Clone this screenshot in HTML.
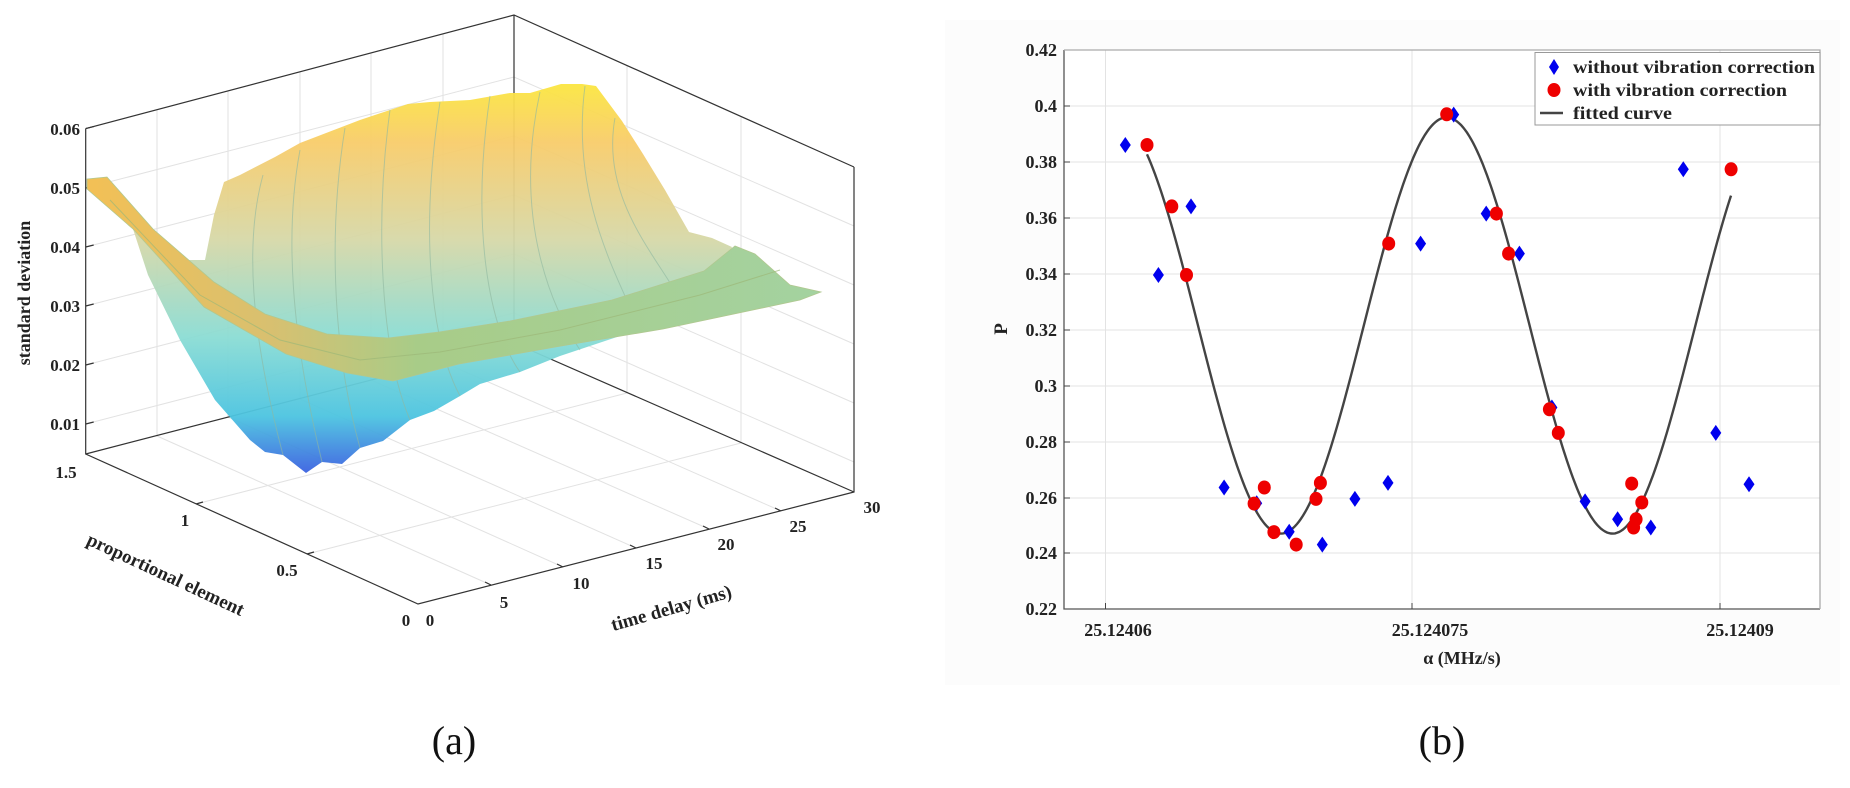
<!DOCTYPE html>
<html><head><meta charset="utf-8"><style>
html,body{margin:0;padding:0;background:#fff;}
svg text{font-family:"Liberation Serif",serif;}
</style></head><body>
<svg width="1850" height="783" viewBox="0 0 1850 783" xmlns="http://www.w3.org/2000/svg">
<defs>
<linearGradient id="gback" x1="0" y1="84" x2="0" y2="475" gradientUnits="userSpaceOnUse">
<stop offset="0" stop-color="#fbe640"/>
<stop offset="0.15" stop-color="#f8cc6a"/>
<stop offset="0.4" stop-color="#d6d8a8"/>
<stop offset="0.65" stop-color="#8adcd4"/>
<stop offset="0.85" stop-color="#4cc4e0"/>
<stop offset="1" stop-color="#3a5ee0"/>
</linearGradient>
<linearGradient id="gband" x1="87" y1="0" x2="821" y2="0" gradientUnits="userSpaceOnUse">
<stop offset="0" stop-color="#f3c055"/>
<stop offset="0.25" stop-color="#d8c070"/>
<stop offset="0.45" stop-color="#a8cc88"/>
<stop offset="1" stop-color="#a4d2a0"/>
</linearGradient>
</defs>

<g stroke="#e2e2e2" stroke-width="1" fill="none">
<path d="M85.7,424 L514,313 L854,462 M85.7,365 L514,254 L854,403 M85.7,306 L514,195 L854,344 M85.7,247 L514,136 L854,285 M85.7,188 L514,77 L854,226"/>
<path d="M157,436 L157,110 M228,417 L228,91 M300,399 L300,72 M371,380 L371,53 M443,362 L443,34"/>
<path d="M627,393 L627,65 M741,443 L741,116"/>
<path d="M157,436 L491,585 M228,417 L563,567 M300,399 L636,548 M371,380 L709,529 M443,362 L781,511"/>
<path d="M196,504 L627,393 M307,554 L741,443"/>
</g>
<g stroke="#333" stroke-width="1.2" fill="none">
<path d="M85.7,128.6 L514,15 L854,167"/>
<path d="M514,15 L514,343"/>
<path d="M85.7,128.6 L85.7,454 L418,604 L854,492 L854,167"/>
<path d="M85.7,454 L514,343 L854,492"/>
</g>
<g stroke="#333" stroke-width="1.2">
<path d="M85.7,424 l8,-2 M85.7,365 l8,-2 M85.7,306 l8,-2 M85.7,247 l8,-2 M85.7,188 l8,-2 M85.7,128.6 l8,-2"/>
<path d="M196,504 l7,-2 M307,554 l7,-2 M491,585 l-6,-3 M563,567 l-6,-3 M636,548 l-6,-3 M709,529 l-6,-3 M781,511 l-6,-3"/>
</g>

<path d="M133,229 L148,275 L180,340 L215,400 L250,440 L265,452 L283,455 L306,473 L322,462 L342,464 L360,448 L383,441 L410,420 L434,411 L460,396 L480,384 L520,372 L560,356 L620,336 L689,300 L724,270 L732,247 L712,238 L689,232 L665,190 L643,154 L622,121 L596,86 L582,84 L561,84 L530,93 L510,93 L470,100 L430,102 L408,104 L360,120 L300,143 L275,157 L240,175 L224,182 L214,215 L205,260 L180,260 Z" fill="url(#gback)" opacity="0.95"/>
<g stroke="#8fb8a0" stroke-width="1" fill="none" opacity="0.6">
<path d="M263,175 C245,240 250,330 283,455"/>
<path d="M300,150 C285,230 290,330 322,462"/>
<path d="M345,128 C330,220 330,340 360,448"/>
<path d="M390,110 C375,220 380,350 410,420"/>
<path d="M440,102 C420,230 430,340 460,396"/>
<path d="M490,96 C470,230 490,330 520,372"/>
<path d="M540,92 C510,230 560,320 580,350"/>
<path d="M585,86 C570,200 620,280 640,330"/>
<path d="M615,118 C600,200 660,260 680,300"/>
</g>
<path d="M87,179 L107,177 L153,229 L214,282 L265,314 L327,334 L388,338 L439,332 L510,321 L612,300 L704,271 L735,246 L755,254 L790,285 L821,292 L800,300 L663,329 L561,346 L459,364 L393,381 L347,373 L286,354 L204,307 L133,229 L87,189 Z" fill="url(#gband)" stroke="#b0c890" stroke-width="0.8"/>
<path d="M110,200 L200,295 L280,340 L360,360 L440,352 L560,330 L700,295 L780,270" stroke="#9cb878" stroke-width="1" fill="none" opacity="0.7"/>

<g font-size="17" font-weight="bold" fill="#222" text-anchor="end">
<text x="80" y="430">0.01</text>
<text x="80" y="371">0.02</text>
<text x="80" y="312">0.03</text>
<text x="80" y="253">0.04</text>
<text x="80" y="194">0.05</text>
<text x="80" y="135">0.06</text>
</g>
<g font-size="17" font-weight="bold" fill="#222" text-anchor="middle">
<text x="66" y="478">1.5</text>
<text x="185" y="526">1</text>
<text x="287" y="576">0.5</text>
<text x="406" y="626">0</text>
<text x="430" y="626">0</text>
<text x="504" y="608">5</text>
<text x="581" y="589">10</text>
<text x="654" y="569">15</text>
<text x="726" y="550">20</text>
<text x="798" y="532">25</text>
<text x="872" y="513">30</text>
</g>
<text transform="translate(30,293) rotate(-90)" font-size="18" font-weight="bold" fill="#222" text-anchor="middle">standard deviation</text>
<text transform="translate(163,580) rotate(25)" font-size="19" font-weight="bold" fill="#222" text-anchor="middle">proportional element</text>
<text transform="translate(673,614) rotate(-16)" font-size="19" font-weight="bold" fill="#222" text-anchor="middle">time delay (ms)</text>

<rect x="945" y="20" width="895" height="665" fill="#fcfcfc"/>
<rect x="1064" y="50" width="756" height="559" fill="#fff"/>
<g stroke="#e3e3e3" stroke-width="1">
<path d="M1064,106 H1820 M1064,162 H1820 M1064,218 H1820 M1064,274 H1820 M1064,330 H1820 M1064,386 H1820 M1064,442 H1820 M1064,498 H1820 M1064,553 H1820"/>
<path d="M1105.5,50 V609 M1412,50 V609 M1720,50 V609"/>
</g>
<g stroke="#555" stroke-width="1.3" fill="none">
<path d="M1064,50 V609 H1820"/>
<path d="M1064,50 H1820 V609" stroke="#aaa"/>
</g>
<g stroke="#444" stroke-width="1">
<path d="M1064,106 h6 M1064,162 h6 M1064,218 h6 M1064,274 h6 M1064,330 h6 M1064,386 h6 M1064,442 h6 M1064,498 h6 M1064,553 h6 M1105.5,609 v-6 M1412,609 v-6 M1720,609 v-6"/>
</g>
<g font-size="18" font-weight="bold" fill="#222" text-anchor="end">
<text x="1057" y="56">0.42</text>
<text x="1057" y="112">0.4</text>
<text x="1057" y="168">0.38</text>
<text x="1057" y="224">0.36</text>
<text x="1057" y="280">0.34</text>
<text x="1057" y="336">0.32</text>
<text x="1057" y="392">0.3</text>
<text x="1057" y="448">0.28</text>
<text x="1057" y="504">0.26</text>
<text x="1057" y="559">0.24</text>
<text x="1057" y="615">0.22</text>
</g>
<g font-size="18" font-weight="bold" fill="#222" text-anchor="middle">
<text x="1118" y="636">25.12406</text>
<text x="1430" y="636">25.124075</text>
<text x="1740" y="636">25.12409</text>
<text x="1462" y="664">α (MHz/s)</text>
</g>
<text transform="translate(1007,329) rotate(-90)" font-size="19" font-weight="bold" fill="#222" text-anchor="middle">P</text>

<path id="fit" d="" stroke="#444" stroke-width="2.4" fill="none"/>

<g fill="#0000ee" id="blue"></g>
<g fill="#ee0000" id="red"></g>

<rect x="1535" y="52.5" width="285" height="72.5" fill="#fff" stroke="#999" stroke-width="1"/>
<path d="M1554,59 l5,8 l-5,8 l-5,-8 Z" fill="#0000ee"/>
<ellipse cx="1554" cy="90" rx="6.5" ry="7" fill="#ee0000"/>
<path d="M1540,113 h23" stroke="#444" stroke-width="2.4"/>
<g font-size="17.5" font-weight="bold" fill="#222">
<text x="1573" y="73" textLength="242" lengthAdjust="spacingAndGlyphs">without vibration correction</text>
<text x="1573" y="96" textLength="214" lengthAdjust="spacingAndGlyphs">with vibration correction</text>
<text x="1573" y="119" textLength="99" lengthAdjust="spacingAndGlyphs">fitted curve</text>
</g>

<text x="454" y="754" font-size="40" text-anchor="middle" fill="#111">(a)</text>
<text x="1442" y="754" font-size="40" text-anchor="middle" fill="#111">(b)</text>
</svg>
<script>
(function(){
var d="";
for(var x=1147;x<=1731.5;x+=2){
 var P=0.3215+0.0745*Math.cos(2*Math.PI*(x-1446.7)/331.6);
 var y=50.4+(0.42-P)*2793;
 d+=(d?"L":"M")+x.toFixed(1)+","+y.toFixed(1);
}
document.getElementById("fit").setAttribute("d",d);
var B=[[1125.3,145],[1158.4,275],[1191,206.4],[1224.1,487.5],[1256.7,503.2],[1289.2,531.8],[1322.3,544.6],[1354.9,498.9],[1388,482.9],[1420.6,243.6],[1453.7,114.6],[1486.2,213.6],[1519.4,253.6],[1551.9,407.5],[1585.1,501.4],[1617.6,519.3],[1650.8,527.5],[1683.3,169.3],[1715.8,432.9],[1749,484.3]];
var R=[[1147,145],[1171.8,206.4],[1186.5,275],[1254.1,503.6],[1264.3,487.5],[1273.9,532.1],[1296.2,544.6],[1316,498.9],[1320.4,482.9],[1388.7,243.6],[1446.7,114.3],[1496.4,213.6],[1508.6,253.6],[1549.4,409.3],[1558.3,432.9],[1631.7,483.6],[1633.6,527.5],[1636.1,519.3],[1641.8,502.5],[1731.1,169.3]];
var ns="http://www.w3.org/2000/svg";
var gb=document.getElementById("blue"),gr=document.getElementById("red");
B.forEach(function(p){var e=document.createElementNS(ns,"path");e.setAttribute("d","M"+p[0]+","+(p[1]-8)+"l5.5,8l-5.5,8l-5.5,-8Z");gb.appendChild(e);});
R.forEach(function(p){var e=document.createElementNS(ns,"ellipse");e.setAttribute("cx",p[0]);e.setAttribute("cy",p[1]);e.setAttribute("rx",6.5);e.setAttribute("ry",7);gr.appendChild(e);});
})();
</script>
</body></html>
